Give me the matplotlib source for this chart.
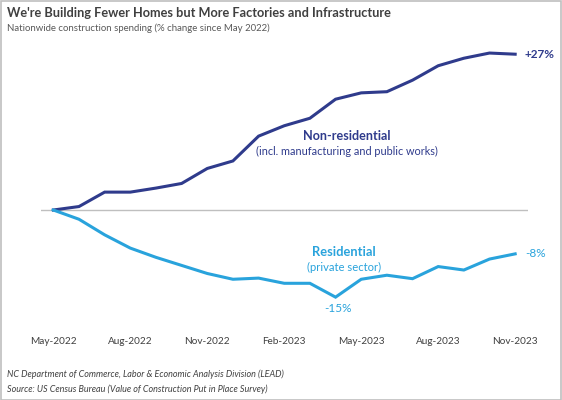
import matplotlib.pyplot as plt
import numpy as np

### Data (% change since May 2022)

months = ['May-2022', 'Jun-2022', 'Jul-2022', 'Aug-2022', 'Sep-2022', 'Oct-2022',
          'Nov-2022', 'Dec-2022', 'Jan-2023', 'Feb-2023', 'Mar-2023', 'Apr-2023',
          'May-2023', 'Jun-2023', 'Jul-2023', 'Aug-2023', 'Sep-2023', 'Oct-2023',
          'Nov-2023']
nonres = [0.0, 0.6, 3.1, 3.1, 3.8, 4.6, 7.2, 8.5, 12.8, 14.6, 15.9, 19.2,
          20.3, 20.5, 22.5, 25.0, 26.3, 27.2, 27.0]
res = [0.0, -1.6, -4.3, -6.6, -8.2, -9.6, -11.0, -12.0, -11.8, -12.7, -12.7,
       -15.1, -12.0, -11.3, -11.9, -9.8, -10.4, -8.5, -7.6]
tick_labels = ['May-2022', 'Aug-2022', 'Nov-2022', 'Feb-2023', 'May-2023',
               'Aug-2023', 'Nov-2023']

navy = '#2f3b8c'
blue = '#29a3dc'
grey_txt = '#404040'

plt.rcParams['font.family'] = ['Lato', 'DejaVu Sans']

fig = plt.figure(figsize=(5.62, 4.0), dpi=100)
ax = fig.add_axes([41/562, 0.2, (528-41)/562, 0.7])

x = np.arange(len(months))
ax.plot(x, nonres, color=navy, lw=2.2, solid_joinstyle='miter')
ax.plot(x, res, color=blue, lw=2.2, solid_joinstyle='miter')
ax.axhline(0, color='#bfbfbf', lw=1, zorder=0)

ax.set_xlim(-0.48, 18.5)
ax.set_ylim(-19.06, 29.46)
ax.set_xticks(x[::3])
ax.set_xticklabels(tick_labels, fontsize=7.2, color=grey_txt)
ax.tick_params(axis='x', length=0, pad=12)
ax.set_yticks([])
for s in ax.spines.values():
    s.set_visible(False)

# end labels
ax.annotate('+27%', (x[-1], nonres[-1]), xytext=(7, 0), textcoords='offset points',
            ha='left', va='center', color=navy, fontsize=8.5, fontweight='bold')
ax.annotate('-8%', (x[-1], res[-1]), xytext=(7, 0), textcoords='offset points',
            ha='left', va='center', color=blue, fontsize=8.5)
ax.annotate('-15%', (x[11], res[11]), xytext=(2, -8), textcoords='offset points',
            ha='center', va='center', color=blue, fontsize=8.5)

# series labels
ax.text(11.45, 12.9, 'Non-residential', color=navy, fontsize=9.1, fontweight='bold',
        ha='center', va='center')
ax.text(11.45, 10.2, '(incl. manufacturing and public works)', color=navy, fontsize=7.8,
        ha='center', va='center')
ax.text(11.33, -7.25, 'Residential', color=blue, fontsize=9.3, fontweight='bold',
        ha='center', va='center')
ax.text(11.33, -9.9, '(private sector)', color=blue, fontsize=8.1,
        ha='center', va='center')

# titles and notes
fig.text(7/562, 1-13/400, "We're Building Fewer Homes but More Factories and Infrastructure",
         fontsize=9.2, fontweight='bold', color=grey_txt, ha='left', va='center')
fig.text(7/562, 1-28/400, 'Nationwide construction spending (% change since May 2022)',
         fontsize=6.9, color='#595959', ha='left', va='center')
fig.text(7/562, 1-374/400, 'NC Department of Commerce, Labor & Economic Analysis Division (LEAD)',
         fontsize=6.5, style='italic', color=grey_txt, ha='left', va='center')
fig.text(7/562, 1-389/400, 'Source: US Census Bureau (Value of Construction Put in Place Survey)',
         fontsize=6.5, style='italic', color=grey_txt, ha='left', va='center')

# outer border
fig.patches.append(plt.Rectangle((0.001, 0.001), 0.997, 0.996, transform=fig.transFigure,
                                 fill=False, edgecolor='#bfbfbf', lw=1.2))

fig.savefig('out.png', dpi=100)
